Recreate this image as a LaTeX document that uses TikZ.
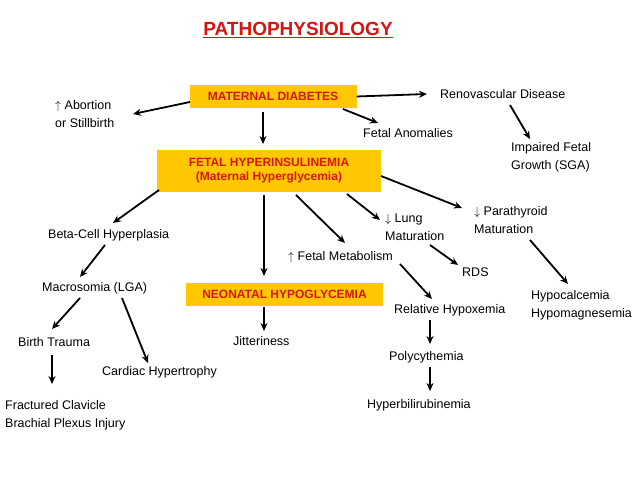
\documentclass[tikz,border=0pt]{standalone}
\usepackage{fontspec}
\setmainfont{Liberation Sans}
\usetikzlibrary{arrows.meta}
\definecolor{boxy}{RGB}{255,200,0}
\definecolor{redt}{RGB}{215,20,20}
\begin{document}
\begin{tikzpicture}[x=1pt,y=-1pt,
  box/.style={fill=boxy,text=redt,font=\fontsize{12}{14}\selectfont\bfseries,align=center,inner sep=0pt},
  lbl/.style={anchor=west,font=\fontsize{12.5}{18}\selectfont,align=left,inner sep=0pt},
  arr/.style={-{Stealth[length=8pt,width=7pt]},line width=1.8pt}]
\useasboundingbox (0,0) rectangle (638,478);
\node[text=redt,font=\fontsize{19}{22}\selectfont\bfseries] (title) at (298,30) {\underline{PATHOPHYSIOLOGY}};
\node[box,minimum width=167pt,minimum height=23pt] (md) at (273,96.5) {MATERNAL DIABETES};
\node[box,minimum width=224pt,minimum height=42pt] (fh) at (269,171) {FETAL HYPERINSULINEMIA\\(Maternal Hyperglycemia)};
\node[box,minimum width=197pt,minimum height=23pt] (nh) at (284.5,294.5) {NEONATAL HYPOGLYCEMIA};
\node[lbl] (ab) at (55,114) {$\uparrow$ Abortion\\or Stillbirth};
\node[lbl] (rv) at (440,94) {Renovascular Disease};
\node[lbl] (fa) at (363,133) {Fetal Anomalies};
\node[lbl] (ig) at (511,157.5) {Impaired Fetal\\Growth (SGA)};
\node[lbl] (bc) at (48,235) {Beta-Cell Hyperplasia};
\node[lbl] (lu) at (385,227) {$\downarrow$ Lung\\Maturation};
\node[lbl] (pt) at (474,220.5) {$\downarrow$ Parathyroid\\Maturation};
\node[lbl] (fm) at (288,257) {$\uparrow$ Fetal Metabolism};
\node[lbl] (rds) at (462,272) {RDS};
\node[lbl] (mac) at (42,288) {Macrosomia (LGA)};
\node[lbl] (hc) at (531,305) {Hypocalcemia\\Hypomagnesemia};
\node[lbl] (rh) at (394,310) {Relative Hypoxemia};
\node[lbl] (bt) at (18,342) {Birth Trauma};
\node[lbl] (jit) at (233,341) {Jitteriness};
\node[lbl] (ch) at (102,372) {Cardiac Hypertrophy};
\node[lbl] (pc) at (389,357) {Polycythemia};
\node[lbl] (fc) at (5,415.5) {Fractured Clavicle\\Brachial Plexus Injury};
\node[lbl] (hb) at (367,405) {Hyperbilirubinemia};
\draw[arr] (190,102) -- (133,114);
\draw[arr] (md.east) -- ([xshift=-13pt]rv.west);
\draw[arr] (343,109) -- (378,123);
\draw[arr] (263,112) -- (263,144);
\draw[arr] (510,105) -- (530,139);
\draw[arr] (159,190) -- (113,223);
\draw[arr] (264,195) -- (264,276);
\draw[arr] (296,195) -- (345,243);
\draw[arr] (347,194) -- (380,220);
\draw[arr] (381,176) -- (462,208);
\draw[arr] (105,245) -- (80,277);
\draw[arr] (430,245) -- (458,265);
\draw[arr] (530,240) -- (568,284);
\draw[arr] (400,264) -- (432,299);
\draw[arr] (80,298) -- (52,329);
\draw[arr] (122,298) -- (148,363);
\draw[arr] (52,355) -- (52,384);
\draw[arr] (264,307) -- (264,331);
\draw[arr] (430,320) -- (430,344);
\draw[arr] (430,367) -- (430,391);
\end{tikzpicture}
\end{document}
